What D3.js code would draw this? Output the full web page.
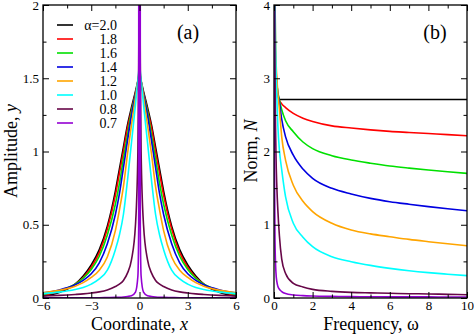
<!DOCTYPE html>
<html>
<head>
<meta charset="utf-8">
<script src="https://cdn.jsdelivr.net/npm/d3@7"></script>
<style>
  html, body { margin: 0; padding: 0; background: #fff; }
  svg text { font-family: "Liberation Serif", "Times New Roman", serif; fill: #000; }
</style>
</head>
<body>
<script>
// legend labels and colours (Grace palette)
const alphas = ['α=2.0', '1.8', '1.6', '1.4', '1.2', '1.0', '0.8', '0.7']
const colors = ['#000000', '#ff0000', '#00e000', '#0000e0', '#ffa500', '#00ffff', '#670748', '#9400d3']

// panel (a): half profiles y(x) for x >= 0 (profiles are even in x)
const xHalf = [0, 0.05, 0.1, 0.25, 0.5, 0.75, 1, 1.25, 1.5, 2, 2.5, 3, 3.5, 4, 5, 6]
const amp20 = [1.52, 1.50, 1.48, 1.41, 1.30, 1.18, 1.03, 0.88, 0.73, 0.49, 0.33, 0.225, 0.15, 0.095, 0.038, 0.014]
const amp18 = [1.52, 1.50, 1.47, 1.40, 1.28, 1.16, 1.00, 0.85, 0.70, 0.47, 0.31, 0.21, 0.14, 0.095, 0.045, 0.02]
const amp16 = [1.53, 1.50, 1.47, 1.39, 1.27, 1.11, 0.95, 0.78, 0.64, 0.43, 0.285, 0.195, 0.135, 0.095, 0.05, 0.026]
const amp14 = [1.55, 1.515, 1.48, 1.39, 1.245, 1.07, 0.89, 0.71, 0.57, 0.37, 0.24, 0.165, 0.12, 0.09, 0.055, 0.035]
const amp12 = [1.57, 1.53, 1.49, 1.37, 1.18, 0.98, 0.76, 0.60, 0.46, 0.28, 0.19, 0.14, 0.105, 0.08, 0.052, 0.036]
const amp10 = [1.60, 1.545, 1.49, 1.32, 1.06, 0.80, 0.57, 0.43, 0.33, 0.19, 0.13, 0.095, 0.072, 0.058, 0.04, 0.03]
const amp08 = [2.6, 1.6, 1.0, 0.5, 0.26, 0.17, 0.12, 0.095, 0.078, 0.055, 0.042, 0.034, 0.028, 0.024, 0.018, 0.014]
const amp07 = [30, 0.5, 0.15, 0.04, 0.015, 0.01, 0.007, 0.005, 0.004, 0.003, 0.002, 0.002, 0.0015, 0.0012, 0.001, 0.001]
const ampSeries = [amp20, amp18, amp16, amp14, amp12, amp10, amp08, amp07]

// panel (b): norm N(omega)
const omega = [0.005, 0.02, 0.05, 0.1, 0.15, 0.2, 0.28, 0.4, 0.6, 1, 1.5, 2, 3, 4, 5, 6, 7, 8, 9, 10]
const norm20 = [null, null, null, null, null, null, 2.71, 2.71, 2.71, 2.71, 2.71, 2.71, 2.71, 2.71, 2.71, 2.71, 2.71, 2.71, 2.71, 2.71]
const norm18 = [3.5, 3.15, 2.98, 2.86, 2.80, 2.76, 2.70, 2.65, 2.60, 2.52, 2.455, 2.41, 2.35, 2.32, 2.295, 2.275, 2.26, 2.245, 2.23, 2.216]
const norm16 = [4.4, 3.75, 3.35, 3.06, 2.91, 2.81, 2.70, 2.57, 2.42, 2.27, 2.13, 2.04, 1.943, 1.884, 1.84, 1.802, 1.773, 1.747, 1.724, 1.702]
const norm14 = [6.0, 4.5, 3.6, 3.15, 2.92, 2.80, 2.67, 2.44, 2.20, 1.95, 1.76, 1.634, 1.497, 1.42, 1.36, 1.315, 1.28, 1.247, 1.218, 1.192]
const norm12 = [8, 5.5, 4.2, 3.3, 3.0, 2.8, 2.58, 2.2, 1.88, 1.54, 1.32, 1.18, 1.02, 0.928, 0.875, 0.837, 0.80, 0.769, 0.74, 0.714]
const norm10 = [12, 6, 4.3, 3.2, 2.7, 2.35, 2.02, 1.75, 1.38, 1.02, 0.83, 0.70, 0.564, 0.496, 0.445, 0.405, 0.372, 0.346, 0.325, 0.305]
const norm08 = [15, 6, 3.2, 2.0, 1.5, 1.2, 0.85, 0.53, 0.335, 0.2, 0.15, 0.118, 0.091, 0.077, 0.07, 0.064, 0.059, 0.055, 0.05, 0.045]
const norm07 = [6, 2.0, 0.8, 0.35, 0.22, 0.16, 0.12, 0.088, 0.06, 0.041, 0.032, 0.027, 0.022, 0.019, 0.017, 0.016, 0.015, 0.015, 0.014, 0.014]
const normSeries = [norm20, norm18, norm16, norm14, norm12, norm10, norm08, norm07]

const WIDTH = 474
const HEIGHT = 336
const SERIF = '"Liberation Serif", "Times New Roman", serif'

const svg = d3.select('body')
  .append('svg')
  .attr('width', WIDTH)
  .attr('height', HEIGHT)

function panel(id, xs, ys, opts) {
  const g = svg.append('g')
  const [x0, x1] = xs.range()
  const [y0, y1] = ys.range()

  g.append('clipPath').attr('id', id)
    .append('rect')
    .attr('x', x0).attr('y', y1)
    .attr('width', x1 - x0).attr('height', y0 - y1)

  const lines = g.append('g').attr('clip-path', `url(#${id})`)

  // ticks, inward on all four sides
  const ax = [
    [d3.axisBottom(xs).tickValues(opts.xMajor).tickSize(-6).tickPadding(3), `translate(0,${y0})`],
    [d3.axisBottom(xs).tickValues(opts.xMinor).tickSize(-3.5).tickFormat(''), `translate(0,${y0})`],
    [d3.axisTop(xs).tickValues(opts.xMajor).tickSize(-6).tickFormat(''), `translate(0,${y1})`],
    [d3.axisTop(xs).tickValues(opts.xMinor).tickSize(-3.5).tickFormat(''), `translate(0,${y1})`],
    [d3.axisLeft(ys).tickValues(opts.yMajor).tickSize(-6).tickPadding(4).tickFormat(opts.yFmt), `translate(${x0},0)`],
    [d3.axisLeft(ys).tickValues(opts.yMinor).tickSize(-3.5).tickFormat(''), `translate(${x0},0)`],
    [d3.axisRight(ys).tickValues(opts.yMajor).tickSize(-6).tickFormat(''), `translate(${x1},0)`],
    [d3.axisRight(ys).tickValues(opts.yMinor).tickSize(-3.5).tickFormat(''), `translate(${x1},0)`],
  ]
  ax.forEach(([a, t]) => {
    const s = g.append('g').attr('transform', t).call(a)
      .attr('font-family', SERIF)
      .attr('font-size', 13)
    s.select('.domain').remove()
    s.selectAll('line').attr('stroke', '#000').attr('stroke-width', 1)
    s.selectAll('text').attr('fill', '#000')
  })

  g.append('rect')
    .attr('x', x0).attr('y', y1)
    .attr('width', x1 - x0).attr('height', y0 - y1)
    .attr('fill', 'none')
    .attr('stroke', '#000')
    .attr('stroke-width', 1.3)

  return { g, lines }
}

// ---------- panel (a)
const xa = d3.scaleLinear().domain([-6, 6]).range([43, 236])
const ya = d3.scaleLinear().domain([0, 2]).range([298, 5])

const pa = panel('clipA', xa, ya, {
  xMajor: [-6, -3, 0, 3, 6],
  xMinor: [-4.5, -1.5, 1.5, 4.5],
  yMajor: [0, 0.5, 1, 1.5, 2],
  yMinor: [0.25, 0.75, 1.25, 1.75],
  yFmt: d => d3.format('~g')(d),
})

const lineA = d3.line()
  .x(d => xa(d[0]))
  .y(d => ya(d[1]))
  .curve(d3.curveMonotoneX)

ampSeries.forEach((s, i) => {
  const left = xHalf.map((x, j) => [-x, s[j]]).reverse()
  const right = xHalf.map((x, j) => [x, s[j]]).slice(1)
  pa.lines.append('path')
    .datum(left.concat(right))
    .attr('fill', 'none')
    .attr('stroke', colors[i])
    .attr('stroke-width', 1.6)
    .attr('d', lineA)
})

// legend
const legend = pa.g.append('g')
alphas.forEach((a, i) => {
  const yy = 25 + i * 14
  legend.append('line')
    .attr('x1', 57).attr('x2', 73)
    .attr('y1', yy).attr('y2', yy)
    .attr('stroke', colors[i])
    .attr('stroke-width', 1.6)
  legend.append('text')
    .attr('x', 117).attr('y', yy + 5)
    .attr('text-anchor', 'end')
    .style('font-size', '14px')
    .text(a)
})

pa.g.append('text')
  .attr('x', 188).attr('y', 39)
  .attr('text-anchor', 'middle')
  .style('font-size', '20px')
  .text('(a)')

svg.append('text')
  .attr('x', 139.5).attr('y', 330)
  .attr('text-anchor', 'middle')
  .style('font-size', '18px')
  .html('Coordinate, <tspan font-style="italic">x</tspan>')

svg.append('text')
  .attr('transform', 'translate(17,151) rotate(-90)')
  .attr('text-anchor', 'middle')
  .style('font-size', '18px')
  .html('Amplitude, <tspan font-style="italic">y</tspan>')

// ---------- panel (b)
const xb = d3.scaleLinear().domain([0, 10]).range([274, 467])
const yb = d3.scaleLinear().domain([0, 4]).range([298, 5])

const pb = panel('clipB', xb, yb, {
  xMajor: [0, 2, 4, 6, 8, 10],
  xMinor: [1, 3, 5, 7, 9],
  yMajor: [0, 1, 2, 3, 4],
  yMinor: [0.5, 1.5, 2.5, 3.5],
  yFmt: d3.format('d'),
})

const lineB = d3.line()
  .defined(d => d[1] !== null)
  .x(d => xb(d[0]))
  .y(d => yb(d[1]))
  .curve(d3.curveMonotoneX)

normSeries.forEach((s, i) => {
  pb.lines.append('path')
    .datum(omega.map((w, j) => [w, s[j]]))
    .attr('fill', 'none')
    .attr('stroke', colors[i])
    .attr('stroke-width', 1.6)
    .attr('d', lineB)
})

pb.g.append('text')
  .attr('x', 435).attr('y', 39)
  .attr('text-anchor', 'middle')
  .style('font-size', '20px')
  .text('(b)')

svg.append('text')
  .attr('x', 371).attr('y', 330)
  .attr('text-anchor', 'middle')
  .style('font-size', '18px')
  .text('Frequency, ω')

svg.append('text')
  .attr('transform', 'translate(257,151) rotate(-90)')
  .attr('text-anchor', 'middle')
  .style('font-size', '18px')
  .html('Norm, <tspan font-style="italic">N</tspan>')
</script>
</body>
</html>
